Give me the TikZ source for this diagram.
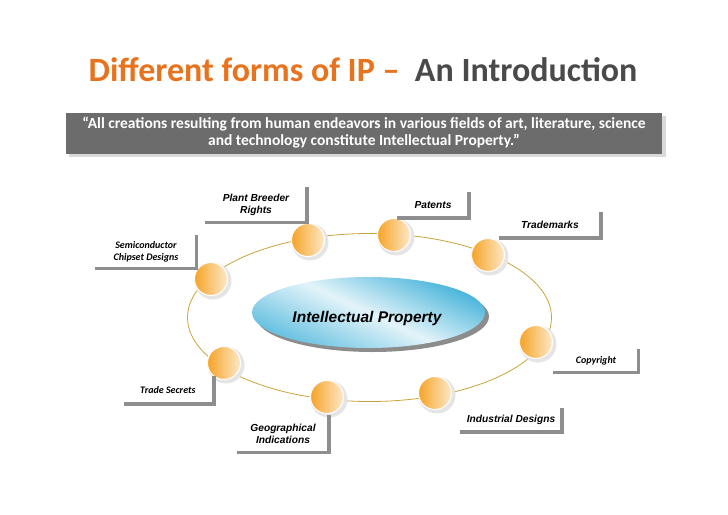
\documentclass[tikz,border=0pt]{standalone}
\usepackage{fontspec}
\setmainfont{Liberation Sans}
\newfontfamily\carlito{Carlito}
\usetikzlibrary{shapes.geometric}
\definecolor{iporange}{HTML}{E8731E}
\definecolor{ipdark}{HTML}{4A4A4A}
\definecolor{bannergray}{HTML}{6C6C6C}
\definecolor{orbit}{HTML}{C9A43A}
\definecolor{ballorange}{HTML}{F6A428}
\definecolor{ballpale}{HTML}{FDE8C8}
\definecolor{ipblue}{HTML}{45B3DA}
\definecolor{tabgray}{HTML}{8E8E8E}
\tikzset{
	ball/.style={circle,minimum size=33pt,inner sep=0pt,left color=ballorange,right color=ballpale,draw=white,line width=1pt},
	tab/.style={tabgray,line width=3.5pt},
	tag/.style={font=\bfseries\itshape\fontsize{10.2}{12.5}\selectfont,align=center,inner sep=0pt},
	ctag/.style={font=\carlito\bfseries\itshape\fontsize{10}{12}\selectfont,align=center,inner sep=0pt}
}
\begin{document}
\begin{tikzpicture}[x=1pt,y=-1pt]
		\useasboundingbox (0,0) rectangle (728,514);

		% title and banner
		\node (title) at (363,70) {\carlito\bfseries\fontsize{34}{38}\selectfont\color{iporange}Different forms of IP –\ \ \color{ipdark}An Introduction};
		\fill[black!15] (69,116) rectangle (666,157);
		\node[fill=bannergray,minimum width=596pt,minimum height=41pt,align=center,text=white,
			font=\carlito\bfseries\fontsize{15.5}{17}\selectfont] (quote) at (364,133)
			{“All creations resulting from human endeavors in various fields of art, literature, science\\
			and technology constitute Intellectual Property.”};

		% orbit and balls
		\draw[orbit,line width=0.8pt] (369.5,317.5) ellipse [x radius=182pt,y radius=84pt];
		\foreach \x/\y[count=\i] in {211/279,308/240,394/235,488/255,536/342,435/393,327/397,224/363}{
			\fill[black!10] (\x+2,\y+2) circle (18.5pt);
			\node[ball] (c\i) at (\x,\y) {};
		}

		% centre
		\fill[black!45] (372.5,316.5) ellipse [x radius=116.5pt,y radius=35.5pt];
		\node[ellipse,minimum width=233pt,minimum height=71pt,inner sep=0pt,
			top color=ipblue,bottom color=ipblue!85,middle color=ipblue!15,shading angle=-25] (ip) at (368.5,312.5) {};
		\node[font=\bfseries\itshape\fontsize{15.5}{18}\selectfont] (iplabel) at (367,318) {Intellectual Property};

		% tabs
		\foreach \x/\y/\w/\h/\s/\t[count=\i] in {
				256/205/102/35/tag/{Plant Breeder\\Rights},
				146/252/101/33/ctag/{Semiconductor\\Chipset Designs},
				433/205/72/26/tag/Patents,
				550/225/102/26/tag/Trademarks,
				596/361/85/23/ctag/Copyright,
				511/420/102/24/tag/Industrial Designs,
				283/434/92/37/tag/{Geographical\\Indications},
				169/390/90/28/ctag/Trade Secrets
			}
		\node[\s,minimum width=\w pt,minimum height=\h pt] (t\i) at (\x,\y) {\t};
		\foreach \i in {1,...,8}
		\draw[tab] (t\i.south west) -| (t\i.north east);
	\end{tikzpicture}
\end{document}
